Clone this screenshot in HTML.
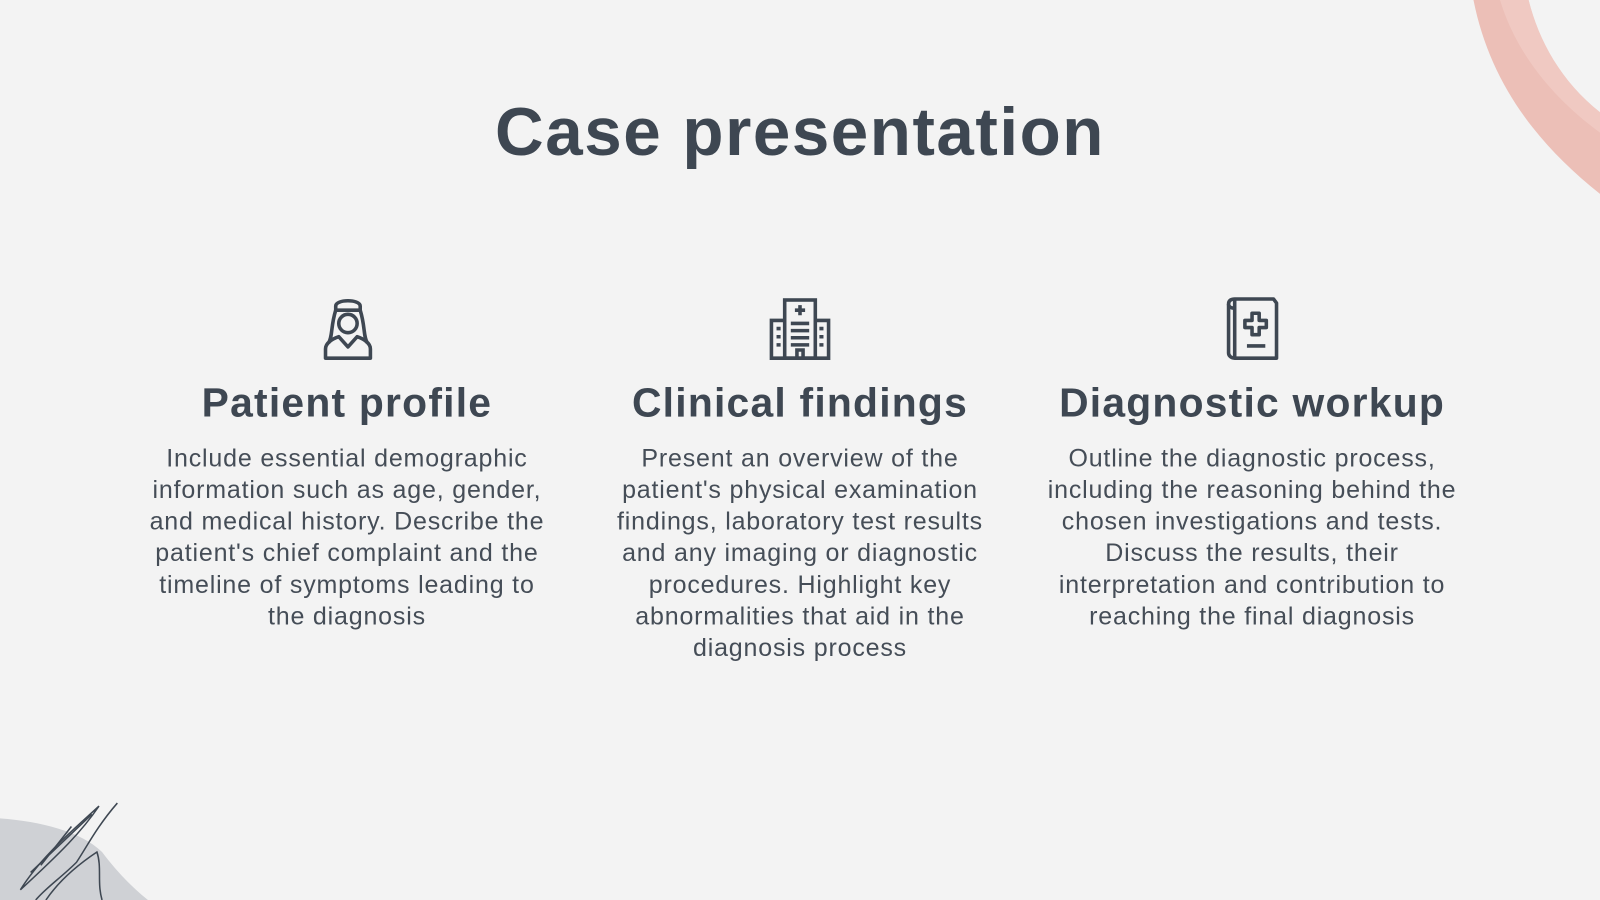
<!DOCTYPE html>
<html><head><meta charset="utf-8"><style>
html,body{margin:0;padding:0;background:#f3f3f3;overflow:hidden}
#w{position:relative;width:1568px;height:882px;transform:scale(1.020408);transform-origin:0 0;background:#f3f3f3;font-family:"Liberation Sans",sans-serif;color:#3e4752}
h1{position:absolute;left:0;width:1568px;top:91px;margin:0;text-align:center;font-size:66px;font-weight:bold;letter-spacing:1.5px}
.col{position:absolute;top:371px;width:440px;text-align:center}
.col h2{margin:0;font-size:40px;font-weight:bold;line-height:48px;letter-spacing:1.2px}
.col p{margin:15px 0 0;font-size:24.5px;line-height:31px;color:#454d57;white-space:nowrap;letter-spacing:0.8px}
svg.ic{position:absolute;top:290px}
</style></head><body><div id="w">
<svg style="position:absolute;left:0;top:0" width="1568" height="882">
<path d="M1444 0 C1460 80 1505 140 1568 190 L1568 110 C1530 80 1508 40 1498 0Z" fill="#eab5ab" opacity="0.85"/>
<path d="M1470 0 C1485 50 1520 95 1568 130 L1568 110 C1530 80 1508 40 1498 0Z" fill="#f2cdc6" opacity="0.7"/>
<path d="M0 802 C40 805 80 815 100 835 C115 855 130 870 145 882 L0 882Z" fill="#cfd1d5"/>
<g fill="none" stroke="#3e4752" stroke-width="1.5">
<path d="M20 872 C40 840 70 815 97 790 C80 815 60 835 20 872Z"/>
<path d="M30 855 L90 798 M40 848 L70 810"/>
<path d="M115 787 C95 810 85 830 75 845 C60 860 45 870 35 882"/>
<path d="M45 882 C60 860 80 845 95 835 C100 850 95 865 100 882"/>
</g>
</svg>
<h1>Case presentation</h1>
<svg class="ic" style="left:312px" width="58" height="64" viewBox="0 0 58 64" fill="none" stroke="#3e4752" stroke-width="3.5" stroke-linejoin="round">
<path d="M17 10 C17 3 41 3 41 10 L41 14 L17 14Z"/>
<path d="M17 14 C12 30 14 40 10 46 M41 14 C46 30 44 40 48 46"/>
<circle cx="29" cy="27" r="9"/>
<path d="M7 61 L7 52 C7 46 14 42 20 40 L29 50 L38 40 C44 42 51 46 51 52 L51 61Z"/>
</svg>
<svg class="ic" style="left:753px" width="62" height="64" viewBox="0 0 62 64" fill="none" stroke="#3e4752" stroke-width="3.5">
<rect x="16" y="4" width="30" height="57"/>
<path d="M16 24 L3 24 L3 61 L59 61 L59 24 L46 24"/>
<path d="M31 9 V19 M26 14 H36"/>
<path d="M22 27H40 M22 34H40 M22 41H40 M22 48H40 M8 32H12 M8 40H12 M8 48H12 M50 32H54 M50 40H54 M50 48H54 M28 61V53H34V61"/>
</svg>
<svg class="ic" style="left:1200px" width="56" height="64" viewBox="0 0 56 64" fill="none" stroke="#3e4752" stroke-width="3.5" stroke-linejoin="round">
<path d="M4 8 C4 4 7 3 10 3 L48 3 L51 7 L51 61 L10 61 C7 61 4 59 4 56Z"/>
<path d="M10 3 L10 61 M4 8 C4 11 7 12 10 12"/>
<path d="M27 17 H34 V24 H41 V31 H34 V38 H27 V31 H20 V24 H27Z"/>
<path d="M22 49 H40"/>
</svg>
<div class="col" style="left:120px"><h2>Patient profile</h2><p>Include essential demographic<br>information such as age, gender,<br>and medical history. Describe the<br>patient's chief complaint and the<br>timeline of symptoms leading to<br>the diagnosis</p></div>
<div class="col" style="left:564px"><h2>Clinical findings</h2><p>Present an overview of the<br>patient's physical examination<br>findings, laboratory test results<br>and any imaging or diagnostic<br>procedures. Highlight key<br>abnormalities that aid in the<br>diagnosis process</p></div>
<div class="col" style="left:1007px"><h2>Diagnostic workup</h2><p>Outline the diagnostic process,<br>including the reasoning behind the<br>chosen investigations and tests.<br>Discuss the results, their<br>interpretation and contribution to<br>reaching the final diagnosis</p></div>
</div></body></html>
